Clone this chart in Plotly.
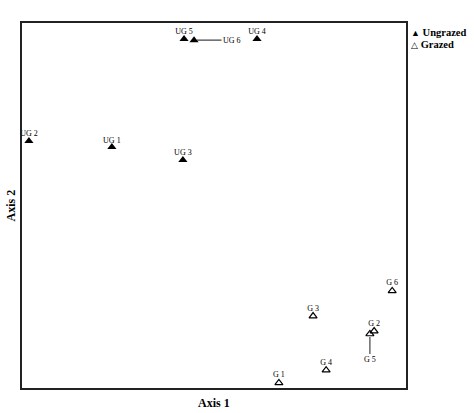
import plotly.graph_objects as go

ug_labels = ["UG 1", "UG 2", "UG 3", "UG 4", "UG 5", "UG 6"]
ug_x = [23.4, 1.8, 41.9, 61.2, 42.2, 44.8]
ug_y = [66.0, 67.7, 62.5, 95.6, 95.6, 95.3]

g_labels = ["G 1", "G 2", "G 3", "G 4", "G 5", "G 6"]
g_x = [66.9, 91.7, 75.8, 79.2, 90.6, 96.4]
g_y = [1.4, 15.6, 19.7, 4.9, 14.8, 26.6]

FONT = "Liberation Serif"

def inline(labels, skip):
    return ["" if l in skip else l for l in labels]

fig = go.Figure()
fig.add_trace(go.Scatter(
    x=ug_x, y=ug_y, mode="markers", name="Ungrazed",
    marker=dict(symbol="triangle-up", size=8, color="black"),
    cliponaxis=False, showlegend=False))
fig.add_trace(go.Scatter(
    x=g_x, y=g_y, mode="markers", name="Grazed",
    marker=dict(symbol="triangle-up-open", size=7, color="black", line=dict(width=1.2)),
    cliponaxis=False, showlegend=False))
# point labels (invisible small markers only set the text offset)
fig.add_trace(go.Scatter(
    x=ug_x, y=ug_y, mode="markers+text", text=inline(ug_labels, {"UG 6"}),
    textposition="top center", textfont=dict(family=FONT, size=8, color="black"),
    marker=dict(size=2.5, color="rgba(0,0,0,0)"),
    cliponaxis=False, showlegend=False, hoverinfo="skip"))
fig.add_trace(go.Scatter(
    x=g_x, y=g_y, mode="markers+text", text=inline(g_labels, {"G 5"}),
    textposition="top center", textfont=dict(family=FONT, size=8, color="black"),
    marker=dict(size=4, color="rgba(0,0,0,0)"),
    cliponaxis=False, showlegend=False, hoverinfo="skip"))

i6 = ug_labels.index("UG 6")
i5 = g_labels.index("G 5")
annotations = [
    dict(x=ug_x[i6], y=ug_y[i6], xref="x", yref="y", text=ug_labels[i6], showarrow=True,
         arrowhead=0, arrowwidth=1.2, arrowcolor="#444", ax=38, ay=0, standoff=3,
         font=dict(family=FONT, size=8, color="black")),
    dict(x=g_x[i5], y=g_y[i5], xref="x", yref="y", text=g_labels[i5], showarrow=True,
         arrowhead=0, arrowwidth=1.2, arrowcolor="#444", ax=0, ay=26, standoff=3,
         font=dict(family=FONT, size=8, color="black")),
    dict(x=0.5, y=0, xref="paper", yref="paper", yanchor="top", yshift=-6,
         text="<b>Axis 1</b>", showarrow=False, font=dict(family=FONT, size=12, color="black")),
    dict(x=0, y=0.5, xref="paper", yref="paper", xanchor="right", xshift=-3,
         text="<b>Axis 2</b>", textangle=-90, showarrow=False,
         font=dict(family=FONT, size=12, color="black")),
    dict(x=1.008, y=0.975, xref="paper", yref="paper", xanchor="left", yanchor="middle",
         text="<span style='font-size:9px'>▲</span> <b>Ungrazed</b>", showarrow=False,
         font=dict(family=FONT, size=10.5, color="black")),
    dict(x=1.008, y=0.94, xref="paper", yref="paper", xanchor="left", yanchor="middle",
         text="<span style='font-size:9px'>△</span> <b>Grazed</b>", showarrow=False,
         font=dict(family=FONT, size=10.5, color="black")),
]

axis = dict(range=[0, 100], showticklabels=False, ticks="", showgrid=False, zeroline=False,
            showline=True, mirror=True, linecolor="#222", linewidth=1.5)
fig.update_layout(
    width=474, height=413,
    margin=dict(l=22, r=68, t=23, b=25),
    paper_bgcolor="white", plot_bgcolor="white",
    xaxis=axis, yaxis=axis,
    annotations=annotations,
    showlegend=False,
)
fig.write_html("out.html", config={"displayModeBar": False},
               post_script="document.body.style.margin='0';document.body.style.overflow='hidden';")
